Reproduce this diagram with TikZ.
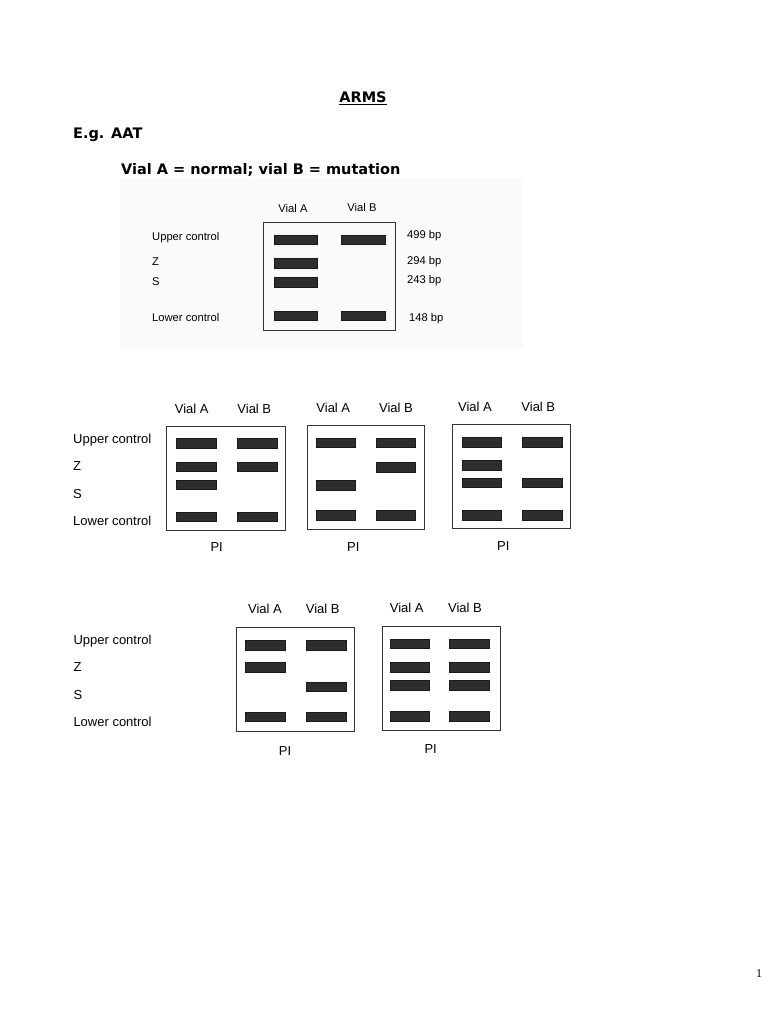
\documentclass[tikz,border=0pt]{standalone}
\usepackage{fontspec}
\setmainfont{Liberation Sans}
\newfontfamily\headfont{DejaVu Sans}
\newfontfamily\pagefont{Liberation Serif}
\begin{document}
\begin{tikzpicture}[x=1pt,y=-1pt,
  band/.style={fill=black!82,draw=black!90,line width=0.4pt,inner sep=0pt,minimum width=39.5pt,minimum height=9.5pt},
  bigband/.style={band,minimum width=43.5pt},
  gel/.style={draw=black!80,line width=0.9pt},
  lbl/.style={inner sep=0pt,font=\fontsize{13}{15}\selectfont},
  smalllbl/.style={inner sep=0pt,font=\fontsize{11.2}{13}\selectfont},
  head/.style={inner sep=0pt,font=\headfont\bfseries\fontsize{14.5}{17}\selectfont}]
\useasboundingbox (0,0) rectangle (768,1024);
% faint scan area
\fill[black!2] (120,178) rectangle (523,348);
% headings
\node[head,anchor=base] (title) at (363,103) {\underline{ARMS}};
\node[head,anchor=base west] (eg) at (73,139) {E.g. AAT};
\node[head,anchor=base west] (key) at (121,175) {Vial A = normal; vial B = mutation};
% reference gel
\pgfmathsetmacro{\ta}{295.8}
\pgfmathsetmacro{\tb}{363.3}
\draw[gel] (263.3,222.3) rectangle (395,330);
\node[smalllbl,anchor=base] (tva) at (293,212.5) {Vial A};
\node[smalllbl,anchor=base] (tvb) at (362,212) {Vial B};
\node[smalllbl,anchor=base west] (tup) at (152,240.5) {Upper control};
\node[smalllbl,anchor=base west] (tz) at (152,265) {Z};
\node[smalllbl,anchor=base west] (ts) at (152,285) {S};
\node[smalllbl,anchor=base west] (tlow) at (152,321.5) {Lower control};
\node[bigband] (tua) at (\ta,239.5) {};
\node[bigband] (tub) at (\tb,239.5) {};
\node[bigband] (tza) at (\ta,263) {};
\node[bigband] (tsa) at (\ta,282) {};
\node[bigband] (tla) at (\ta,315.5) {};
\node[bigband] (tlb) at (\tb,315.5) {};
\node[smalllbl,anchor=base west] (bp499) at (407,238) {499 bp};
\node[smalllbl,anchor=base west] (bp294) at (407,264) {294 bp};
\node[smalllbl,anchor=base west] (bp243) at (407,283) {243 bp};
\node[smalllbl,anchor=base west] (bp148) at (409,321.5) {148 bp};
% middle row
\node[lbl,anchor=base west] (mup) at (73,443.5) {Upper control};
\node[lbl,anchor=base west] (mz) at (73,470.7) {Z};
\node[lbl,anchor=base west] (ms) at (73,498) {S};
\node[lbl,anchor=base west] (mlow) at (73,525) {Lower control};
% panel 1
\draw[gel] (166.7,426) rectangle (285.3,530);
\node[lbl,anchor=base] (p1va) at (191.7,413.3) {Vial A};
\node[lbl,anchor=base] (p1vb) at (254.3,413.3) {Vial B};
\node[band] (p1ua) at (196.3,443.3) {};
\node[band] (p1ub) at (257.3,443.3) {};
\node[band] (p1za) at (196.3,466.7) {};
\node[band] (p1zb) at (257.3,466.7) {};
\node[band] (p1sa) at (196.3,484.7) {};
\node[band] (p1la) at (196.3,516.7) {};
\node[band] (p1lb) at (257.3,516.7) {};
\node[lbl,anchor=base] (p1pi) at (216.7,551.7) {PI};
% panel 2
\draw[gel] (307.3,425.3) rectangle (424.3,529);
\node[lbl,anchor=base] (p2va) at (333.3,412.7) {Vial A};
\node[lbl,anchor=base] (p2vb) at (396,412.7) {Vial B};
\node[band] (p2ua) at (335.7,442.7) {};
\node[band] (p2ub) at (395.7,442.7) {};
\node[band] (p2zb) at (395.7,467.3) {};
\node[band] (p2sa) at (335.7,485.3) {};
\node[band] (p2la) at (335.7,515.3) {};
\node[band] (p2lb) at (395.7,515.3) {};
\node[lbl,anchor=base] (p2pi) at (353.3,551.7) {PI};
% panel 3
\draw[gel] (452.7,424.3) rectangle (570.7,528);
\node[lbl,anchor=base] (p3va) at (475,411.7) {Vial A};
\node[lbl,anchor=base] (p3vb) at (538.3,411) {Vial B};
\node[band] (p3ua) at (481.7,442) {};
\node[band] (p3ub) at (542.3,442) {};
\node[band] (p3za) at (481.7,465) {};
\node[band] (p3sa) at (481.7,482.7) {};
\node[band] (p3sb) at (542.3,482.7) {};
\node[band] (p3la) at (481.7,515) {};
\node[band] (p3lb) at (542.3,515) {};
\node[lbl,anchor=base] (p3pi) at (503.3,550.5) {PI};
% bottom row
\node[lbl,anchor=base west] (bup) at (73.3,644) {Upper control};
\node[lbl,anchor=base west] (bz) at (73.3,671.5) {Z};
\node[lbl,anchor=base west] (bs) at (73.3,699) {S};
\node[lbl,anchor=base west] (blow) at (73.3,726) {Lower control};
% panel 4
\draw[gel] (236,627.7) rectangle (354.3,731);
\node[lbl,anchor=base] (p4va) at (265,613.3) {Vial A};
\node[lbl,anchor=base] (p4vb) at (322.7,613.3) {Vial B};
\node[band] (p4ua) at (265,645) {};
\node[band] (p4ub) at (326,645) {};
\node[band] (p4za) at (265,667.3) {};
\node[band] (p4sb) at (326,686.7) {};
\node[band] (p4la) at (265,716.7) {};
\node[band] (p4lb) at (326,716.7) {};
\node[lbl,anchor=base] (p4pi) at (285,755) {PI};
% panel 5
\draw[gel] (382,626.7) rectangle (500,730);
\node[lbl,anchor=base] (p5va) at (406.7,612.3) {Vial A};
\node[lbl,anchor=base] (p5vb) at (465,612) {Vial B};
\node[band] (p5ua) at (409.7,643.7) {};
\node[band] (p5ub) at (469,643.7) {};
\node[band] (p5za) at (409.7,667.3) {};
\node[band] (p5zb) at (469,667.3) {};
\node[band] (p5sa) at (409.7,685.3) {};
\node[band] (p5sb) at (469,685.3) {};
\node[band] (p5la) at (409.7,716) {};
\node[band] (p5lb) at (469,716) {};
\node[lbl,anchor=base] (p5pi) at (430.7,753.5) {PI};
% page number
\node[inner sep=0pt,anchor=base,font=\pagefont\fontsize{12}{14}\selectfont] (pgnum) at (759,977) {1};
\end{tikzpicture}
\end{document}
